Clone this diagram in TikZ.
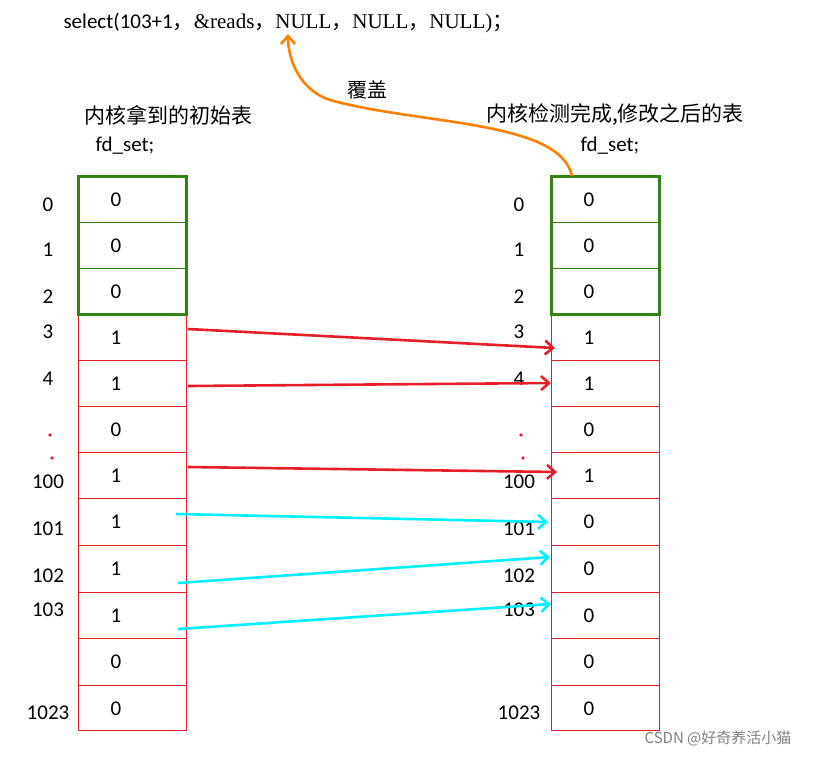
\documentclass[tikz,border=0pt]{standalone}
\usetikzlibrary{arrows.meta}
\usepackage{fontspec}
\setmainfont{Carlito}
\newfontfamily\cjk{Noto Sans CJK SC}
\newfontfamily\mono{Liberation Serif}
\definecolor{cy}{RGB}{0,240,255}
\definecolor{rd}{RGB}{230,30,40}
\definecolor{gn}{RGB}{50,130,20}
\begin{document}
\begin{tikzpicture}[x=1pt,y=-1pt,
  cellg/.style={draw=gn,line width=1pt},
  cellr/.style={draw=rd,line width=1pt},
  val/.style={font=\fontsize{21}{21}\selectfont},
  idx/.style={font=\fontsize{21}{21}\selectfont},
  ra/.style={draw=rd,line width=2.6pt,-{Straight Barb[length=8pt,width=14pt]}},
  ca/.style={draw=cy,line width=2.6pt,-{Straight Barb[length=8pt,width=14pt]}}]
\useasboundingbox (0,0) rectangle (827,756);
\def\ys{{176,222,268,314,360,406,452,498,545,592,638,685,730}}
\foreach \xl/\side in {78/L,551/R}{
  \foreach \i in {3,...,11}{
    \pgfmathsetmacro\ya{\ys[\i]}\pgfmathsetmacro\yb{\ys[\i+1]}
    \draw[cellr] (\xl,\ya) rectangle (\xl+108,\yb);}
  \foreach \i in {0,1,2}{
    \pgfmathsetmacro\ya{\ys[\i]}\pgfmathsetmacro\yb{\ys[\i+1]}
    \draw[cellg] (\xl,\ya) rectangle (\xl+108,\yb);}
  \draw[gn,line width=3pt] (\xl,176) rectangle (\xl+108,314);
}
\foreach \v [count=\k from 0] in {0,0,0,1,1,0,1,1,1,1,0,0}{
  \pgfmathsetmacro\ya{\ys[\k]+24}
  \node[val] (l\k) at (116,\ya) {\v};}
\foreach \v [count=\k from 0] in {0,0,0,1,1,0,1,0,0,0,0,0}{
  \pgfmathsetmacro\ya{\ys[\k]+24}
  \node[val] (r\k) at (589,\ya) {\v};}
\foreach \t/\yy [count=\k] in {0/205,1/250,2/297,3/332,4/379,100/482,101/529,102/576,103/610,1023/713}{
  \node[idx] (il\k) at (48,\yy) {\t};
  \node[idx] (ir\k) at (519,\yy) {\t};}
\foreach \xx in {50,521}{
  \fill[rd] (\xx,435) circle (1.8); \fill[rd] (\xx+2,458) circle (1.8);}
\coordinate (a1) at (188,329); \coordinate (b1) at (555,348);
\coordinate (a2) at (188,386); \coordinate (b2) at (551,383);
\coordinate (a3) at (188,467); \coordinate (b3) at (557,472);
\coordinate (c1) at (176,514); \coordinate (d1) at (548,522);
\coordinate (c2) at (178,583); \coordinate (d2) at (550,557);
\coordinate (c3) at (178,629); \coordinate (d3) at (551,604);
\draw[ra] (a1)--(b1); \draw[ra] (a2)--(b2); \draw[ra] (a3)--(b3);
\draw[ca] (c1)--(d1); \draw[ca] (c2)--(d2); \draw[ca] (c3)--(d3);
\node[anchor=west,font=\fontsize{21}{21}\selectfont] (sel) at (60,23) {select(103+1{\cjk ，}{\mono\&reads{\cjk ，}NULL{\cjk ，}NULL{\cjk ，}NULL){\cjk ；}}};
\coordinate (o1) at (572,176); \coordinate (o2) at (288,34);
\draw[orange,line width=2.6pt,-{Straight Barb[length=8pt,width=14pt]}] (o1) .. controls (560,120) and (420,125) .. (330,100) .. controls (300,90) and (288,60) .. (o2);
\node[font=\cjk\fontsize{20}{20}\selectfont] (fg) at (367,90) {覆盖};
\node[font=\cjk\fontsize{21}{21}\selectfont] (tl) at (168,115) {内核拿到的初始表};
\node[font=\fontsize{21}{21}\selectfont] (fl) at (125,146) {fd\_set;};
\node[font=\cjk\fontsize{21}{21}\selectfont] (tr) at (615,115) {内核检测完成,修改之后的表};
\node[font=\fontsize{21}{21}\selectfont] (fr) at (610,146) {fd\_set;};
\node[font=\cjk\fontsize{15}{15}\selectfont,text=gray] (wm) at (718,738) {CSDN @好奇养活小猫};
\end{tikzpicture}
\end{document}
